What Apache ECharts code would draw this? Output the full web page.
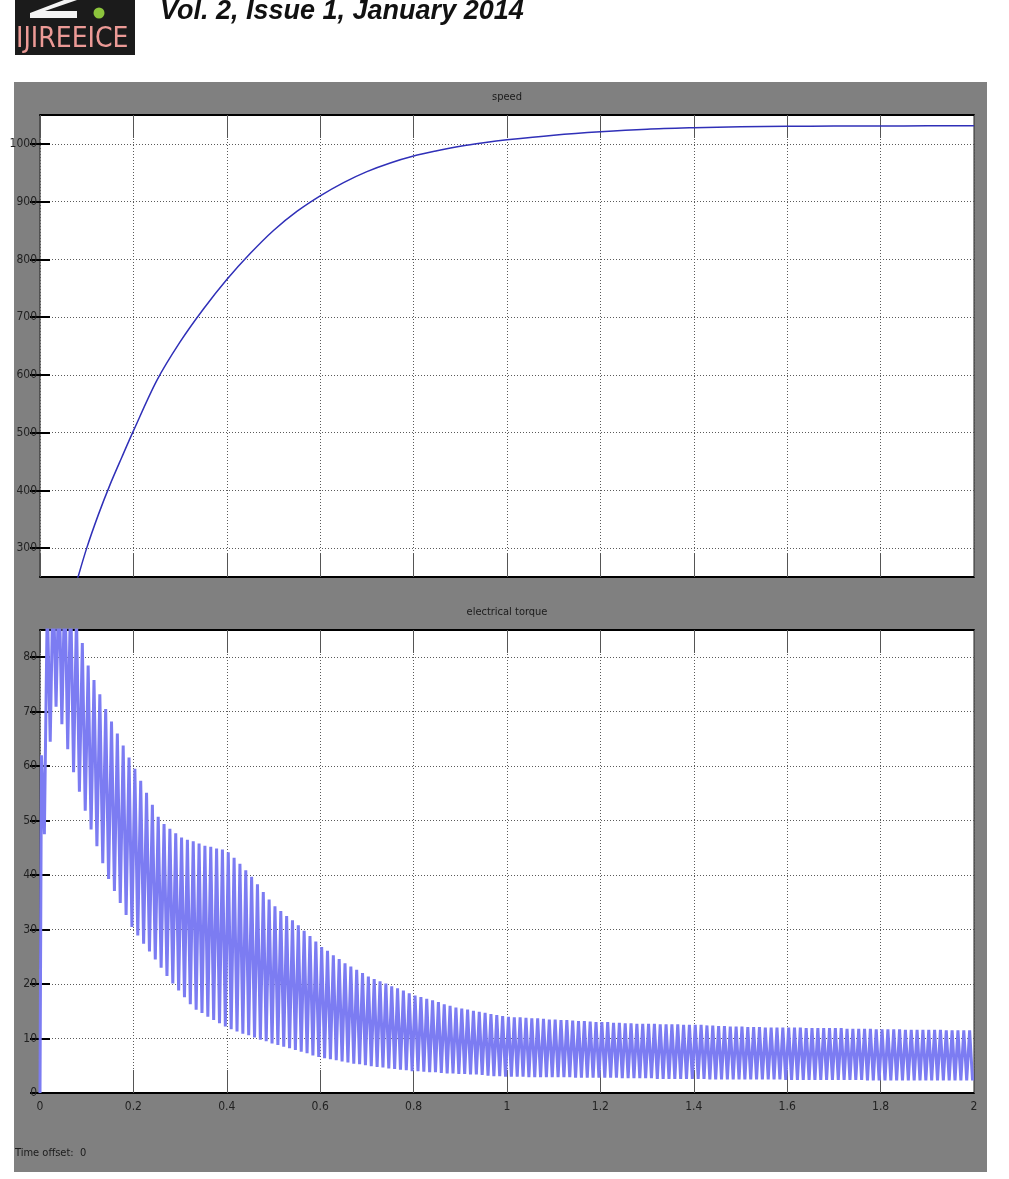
<!DOCTYPE html>
<html>
<head>
<meta charset="utf-8">
<title>speed / electrical torque</title>
<script src="https://cdn.jsdelivr.net/npm/echarts@6/dist/echarts.min.js"></script>
<style>
  html, body { margin: 0; padding: 0; background: #ffffff; }
  #chart { width: 1009px; height: 1179px; }
</style>
</head>
<body>
<div id="chart"></div>
<script>
// ---- data ----
const speedTicks = [300, 400, 500, 600, 700, 800, 900, 1000];
const torqueTicks = [0, 10, 20, 30, 40, 50, 60, 70, 80];

// rotor speed (rpm) against time (s)
const speedTime  = [0, 0.02, 0.04, 0.06, 0.08, 0.1, 0.125, 0.15, 0.175, 0.2, 0.25, 0.3, 0.35, 0.4, 0.45, 0.5, 0.55, 0.6, 0.65, 0.7, 0.75, 0.8, 0.85, 0.9, 0.95, 1.0, 1.1, 1.2, 1.3, 1.4, 1.5, 1.6, 1.7, 1.8, 1.9, 2.0];
const speedValue = [0, 67, 129, 189, 246, 300, 358, 410, 457, 503, 590, 657, 714, 765, 810, 850, 883, 910, 933, 952, 967, 979, 988, 996, 1002, 1007, 1015, 1021, 1025.5, 1028, 1029.8, 1030.5, 1030.9, 1031.1, 1031.2, 1031.3];

// electrical torque: one maximum and one minimum per ripple cycle
const cyclePeriod = 0.0125;
const torquePeaks = [
  62, 90, 94.5, 94.6, 94.2, 91.9, 87.7, 82.6,
  78.5, 75.8, 73.2, 70.5, 68.2, 66.0, 63.8, 61.6,
  59.5, 57.3, 55.1, 52.9, 50.7, 49.4, 48.5, 47.7,
  46.9, 46.5, 46.2, 45.8, 45.4, 45.2, 44.9, 44.7,
  44.2, 43.2, 42.1, 40.9, 39.7, 38.3, 36.9, 35.5,
  34.3, 33.4, 32.5, 31.7, 30.8, 29.8, 28.8, 27.8,
  26.8, 26.1, 25.3, 24.6, 23.8, 23.2, 22.6, 22.0,
  21.4, 20.9, 20.5, 20.1, 19.6, 19.2, 18.8, 18.3,
  17.9, 17.6, 17.3, 17.0, 16.7, 16.3, 16.0, 15.7,
  15.5, 15.3, 15.1, 14.9, 14.7, 14.5, 14.3, 14.1,
  14.0, 13.9, 13.9, 13.8, 13.7, 13.7, 13.6, 13.5,
  13.5, 13.4, 13.4, 13.3, 13.2, 13.2, 13.1, 13.0,
  13.0, 13.0, 12.9, 12.9, 12.8, 12.8, 12.7, 12.7,
  12.7, 12.7, 12.6, 12.6, 12.6, 12.6, 12.5, 12.5,
  12.5, 12.5, 12.4, 12.4, 12.3, 12.3, 12.2, 12.2,
  12.2, 12.1, 12.1, 12.1, 12.0, 12.0, 12.0, 12.0,
  12.0, 12.0, 12.0, 11.9, 11.9, 11.9, 11.9, 11.9,
  11.9, 11.9, 11.8, 11.8, 11.8, 11.8, 11.8, 11.7,
  11.7, 11.7, 11.7, 11.7, 11.6, 11.6, 11.6, 11.6,
  11.6, 11.6, 11.6, 11.5, 11.5, 11.5, 11.5, 11.5
];
const torqueTroughs = [
  47.5, 64.5, 70.9, 67.7, 63.1, 58.9, 55.3, 51.8,
  48.4, 45.3, 42.2, 39.3, 37.1, 34.9, 32.7, 30.5,
  28.9, 27.4, 26.0, 24.5, 23.0, 21.5, 20.1, 18.8,
  17.6, 16.3, 15.3, 14.7, 14.0, 13.4, 12.8, 12.2,
  11.7, 11.3, 10.9, 10.6, 10.2, 9.8, 9.5, 9.1,
  8.8, 8.5, 8.2, 7.9, 7.6, 7.3, 6.9, 6.6,
  6.4, 6.2, 6.0, 5.8, 5.6, 5.4, 5.3, 5.1,
  4.9, 4.8, 4.7, 4.5, 4.4, 4.3, 4.2, 4.0,
  4.0, 3.9, 3.8, 3.8, 3.7, 3.6, 3.6, 3.5,
  3.5, 3.4, 3.4, 3.3, 3.2, 3.1, 3.1, 3.0,
  3.0, 3.0, 3.0, 2.9, 2.9, 2.9, 2.9, 2.9,
  2.9, 2.9, 2.9, 2.8, 2.8, 2.8, 2.8, 2.8,
  2.8, 2.8, 2.8, 2.7, 2.7, 2.7, 2.7, 2.7,
  2.7, 2.6, 2.6, 2.6, 2.6, 2.6, 2.6, 2.6,
  2.6, 2.6, 2.5, 2.5, 2.5, 2.5, 2.5, 2.5,
  2.5, 2.5, 2.5, 2.5, 2.5, 2.5, 2.5, 2.4,
  2.4, 2.4, 2.4, 2.4, 2.4, 2.4, 2.4, 2.4,
  2.4, 2.4, 2.4, 2.4, 2.4, 2.3, 2.3, 2.3,
  2.3, 2.3, 2.3, 2.3, 2.3, 2.3, 2.3, 2.3,
  2.3, 2.3, 2.3, 2.3, 2.3, 2.3, 2.3, 2.3
];

// ---- series data ----
const speedData = speedTime.map((t, i) => [t, speedValue[i]]);
const torqueData = [[0, 0]];
torquePeaks.forEach((p, k) => {
  torqueData.push([k * cyclePeriod + cyclePeriod * 0.25, p]);
  torqueData.push([k * cyclePeriod + cyclePeriod * 0.75, torqueTroughs[k]]);
});

// ---- styling helpers ----
const NARROW = "'Liberation Sans Narrow', 'DejaVu Sans Condensed', 'Arial Narrow', sans-serif";
const gridLine = { show: true, lineStyle: { color: '#5a5a5a', width: 1, type: [1, 2] } };

function timeAxis(gridIndex, position, labels) {
  return {
    type: 'value', gridIndex, position, min: 0, max: 2, interval: 0.2,
    axisLine: { show: true, onZero: false, lineStyle: { color: '#000', width: 2 } },
    axisTick: { show: true, inside: true, length: 23, lineStyle: { color: '#555', width: 1 } },
    axisLabel: { show: labels, margin: 8, color: '#222', fontFamily: NARROW, fontSize: 12 },
    splitLine: position === 'bottom' ? gridLine : { show: false }
  };
}
function valueAxis(gridIndex, position, min, max, ticks) {
  const left = position === 'left';
  return {
    type: 'value', gridIndex, position, min, max,
    axisLine: { show: false },
    axisTick: { show: true, inside: true, length: 10, customValues: ticks, lineStyle: { color: '#000', width: 2 } },
    axisLabel: {
      show: left, customValues: ticks, margin: 3, color: '#222', fontFamily: NARROW, fontSize: 12,
      formatter: (v) => String(v)
    },
    splitLine: left ? gridLine : { show: false }
  };
}

const chart = echarts.init(document.getElementById('chart'), null, { renderer: 'canvas' });
chart.setOption({
  backgroundColor: '#ffffff',
  animation: false,
  graphic: {
    elements: [
      // scope window panel
      { type: 'rect', z: -10, shape: { x: 14, y: 82, width: 973, height: 1090 }, style: { fill: '#808080' } },
      // journal logo
      { type: 'rect', shape: { x: 15, y: 0, width: 120, height: 55 }, style: { fill: '#1b1b1b' } },
      { type: 'polygon', shape: { points: [[30, 13], [64, 0], [77, 0], [45, 11], [77, 11], [77, 18], [30, 18]] }, style: { fill: '#f4f4f4' } },
      { type: 'circle', shape: { cx: 99, cy: 13, r: 5.5 }, style: { fill: '#8cc43c' } },
      { type: 'text', style: { x: 16, y: 54, text: 'IJIREEICE', fill: '#ec9a96', font: "28px 'Liberation Sans Narrow', 'DejaVu Sans Condensed', sans-serif", verticalAlign: 'bottom' } },
      { type: 'text', style: { x: 160, y: 12, text: 'Vol. 2, Issue 1, January 2014', fill: '#111', font: "italic bold 27px 'Liberation Sans', Arial, sans-serif", verticalAlign: 'middle' } },
      // plot titles
      { type: 'text', style: { x: 507, y: 97, text: 'speed', fill: '#1a1a1a', font: '11px ' + NARROW, align: 'center', verticalAlign: 'middle' } },
      { type: 'text', style: { x: 507, y: 612, text: 'electrical torque', fill: '#1a1a1a', font: '11px ' + NARROW, align: 'center', verticalAlign: 'middle' } },
      { type: 'text', style: { x: 15, y: 1153, text: 'Time offset:  0', fill: '#1a1a1a', font: '11px ' + NARROW, verticalAlign: 'middle' } }
    ]
  },
  grid: [
    { left: 40, right: 35, top: 115, height: 462, show: true, backgroundColor: '#ffffff', borderColor: '#222', borderWidth: 1 },
    { left: 40, right: 35, top: 630, height: 463, show: true, backgroundColor: '#ffffff', borderColor: '#222', borderWidth: 1 }
  ],
  xAxis: [
    timeAxis(0, 'bottom', false),
    timeAxis(0, 'top', false),
    timeAxis(1, 'bottom', true),
    timeAxis(1, 'top', false)
  ],
  yAxis: [
    valueAxis(0, 'left', 250, 1050, speedTicks),
    valueAxis(0, 'right', 250, 1050, speedTicks),
    valueAxis(1, 'left', 0, 85, torqueTicks),
    valueAxis(1, 'right', 0, 85, torqueTicks)
  ],
  series: [
    {
      name: 'speed', type: 'line', xAxisIndex: 0, yAxisIndex: 0,
      data: speedData, showSymbol: false, smooth: 0.3, clip: true,
      lineStyle: { color: '#3030b8', width: 1.5 }
    },
    {
      name: 'electrical torque', type: 'line', xAxisIndex: 2, yAxisIndex: 2,
      data: torqueData, showSymbol: false, clip: true,
      lineStyle: { color: '#7c7cf2', width: 3, join: 'miter', miterLimit: 3 }
    }
  ]
});
</script>
</body>
</html>
